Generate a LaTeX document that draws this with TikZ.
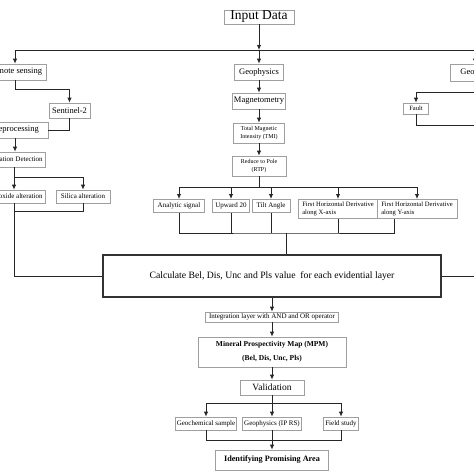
\documentclass[tikz,border=0pt]{standalone}
\usepackage{fontspec}
\setmainfont{Liberation Serif}
\usetikzlibrary{arrows.meta}
\begin{document}
\begin{tikzpicture}[
  x=1pt,y=-1pt,
  box/.style={draw=gray!75,fill=white,line width=0.6pt,inner sep=1pt,align=center,font=\fontsize{8.5}{10}\selectfont},
  smallbox/.style={box,minimum height=13pt,font=\fontsize{7}{8}\selectfont},
  tinybox/.style={box,minimum height=20pt,font=\fontsize{6}{8.5}\selectfont},
  derivbox/.style={box,align=left,minimum width=80pt,minimum height=19pt,font=\fontsize{6.6}{8}\selectfont},
  connection/.style={-{Latex[length=5pt,width=4.5pt]},line width=0.9pt,draw=black!85},
  link/.style={line width=0.9pt,draw=black!85}
]
  \useasboundingbox (0,0) rectangle (474,474);
  \clip (0,0) rectangle (474,474);

  \node[box,font=\fontsize{13.5}{15}\selectfont,minimum width=70pt,minimum height=14pt] (input) at (259,17) {Input Data};
  \coordinate (trunk) at (0,50);
  \node[box,minimum width=62pt,minimum height=16pt] (remote) at (15,72) {Remote sensing};
  \node[box,minimum width=49pt,minimum height=16pt] (geophys) at (259,72) {Geophysics};
  \node[box,minimum width=50pt,minimum height=17pt] (geology) at (475,72.5) {Geology};

  \node[box,minimum width=41pt,minimum height=15pt] (sentinel) at (69.5,110.5) {Sentinel-2};
  \node[box,minimum width=66pt,minimum height=16pt] (preproc) at (15,130) {Preprocessing};
  \node[box,font=\fontsize{7}{8}\selectfont,minimum width=62pt,minimum height=15pt] (altdetect) at (14,159.5) {Alteration Detection};
  \node[smallbox,minimum width=62pt] (ironoxide) at (14,196.5) {Iron oxide alteration};
  \node[smallbox,minimum width=54pt] (silica) at (83,196.5) {Silica alteration};

  \node[box,font=\fontsize{6.5}{8}\selectfont,minimum width=25pt,minimum height=11pt] (fault) at (416,108.5) {Fault};

  \node[box,minimum width=53pt,minimum height=16pt] (magneto) at (259,101) {Magnetometry};
  \node[tinybox,minimum width=51pt] (tmi) at (259,133) {Total Magnetic\\Intensity (TMI)};
  \node[tinybox,minimum width=54pt] (rtp) at (259,166) {Reduce to Pole\\(RTP)};

  \node[smallbox,anchor=north,minimum width=51pt] (analytic) at (179,199) {Analytic signal};
  \node[smallbox,anchor=north,minimum width=37pt] (upward) at (231,199) {Upward 20};
  \node[smallbox,anchor=north,minimum width=38pt] (tilt) at (271,199) {Tilt Angle};
  \node[derivbox,anchor=north] (derivx) at (338,199) {First Horizontal Derivative\\along X-axis};
  \node[derivbox,anchor=north] (derivy) at (417,199) {First Horizontal Derivative\\along Y-axis};
  \coordinate (derivjoin) at (286,233);

  \node[box,draw=black!80,line width=1.1pt,font=\fontsize{9.7}{11}\selectfont,minimum width=338pt,minimum height=42pt] (calc) at (272,276)
    {Calculate Bel, Dis, Unc and Pls value~ for each evidential layer};
  \node[box,font=\fontsize{7}{8}\selectfont,minimum width=133pt,minimum height=10pt] (integ) at (272,317) {Integration layer with AND and OR operator};
  \node[box,font=\fontsize{7.5}{14}\selectfont\bfseries,minimum width=148pt,minimum height=30pt] (mpm) at (272,352)
    {Mineral Prospectivity Map (MPM)\\(Bel, Dis, Unc, Pls)};
  \node[box,font=\fontsize{9.5}{11}\selectfont,minimum width=64pt,minimum height=15pt] (valid) at (272,387.5) {Validation};

  \node[smallbox,minimum width=60pt] (geochem) at (206,423.5) {Geochemical sample};
  \node[smallbox,minimum width=59pt] (geoip) at (272,423.5) {Geophysics (IP RS)};
  \node[smallbox,minimum width=35pt] (fieldstudy) at (341,423.5) {Field study};
  \node[box,font=\fontsize{8.2}{10}\selectfont\bfseries,minimum width=113pt,minimum height=20pt] (ident) at (272,460) {Identifying Promising Area};

  \draw[connection] (input) -- (input |- trunk);
  \draw[connection] (input |- trunk) -| (remote);
  \draw[connection] (input |- trunk) -| (geology);
  \draw[connection] (input |- trunk) -- (geophys);

  \draw[connection] (remote.south) -- ++(0,9) -| (sentinel);
  \draw[link] (sentinel) |- (preproc);
  \draw[connection] (preproc) -- (preproc |- altdetect.north);
  \draw[connection] (altdetect.south) -- ++(0,10.5) -| (silica);
  \draw[connection] (altdetect) -- (ironoxide);
  \draw[link] (silica.south) -- ++(0,8) -| (ironoxide.south);
  \draw[link] (ironoxide) |- (calc);

  \draw[connection] (geology.south) -- ++(0,11) -| (fault);
  \draw[link] (fault.south) -- ++(0,11) -- ++(80,0) |- (calc);

  \draw[connection] (geophys) -- (magneto);
  \draw[connection] (magneto) -- (tmi);
  \draw[connection] (tmi) -- (rtp);
  \draw[connection] (rtp.south) -- ++(0,11) -| (analytic);
  \draw[connection] (rtp.south) -- ++(0,11) -| (upward);
  \draw[connection] (rtp.south) -- ++(0,11) -| (tilt);
  \draw[connection] (rtp.south) -- ++(0,11) -| (derivx);
  \draw[connection] (rtp.south) -- ++(0,11) -| (derivy);

  \draw[link] (analytic) |- (derivjoin) -| ([xshift=-23pt]derivy.south);
  \draw[link] (upward) -- (upward |- derivjoin);
  \draw[link] (tilt) -- (tilt |- derivjoin);
  \draw[link] (derivx) -- (derivx |- derivjoin);
  \draw[link] (derivjoin) -- (derivjoin |- calc.north);

  \draw[connection] (calc) -- (integ);
  \draw[connection] (integ) -- (mpm);
  \draw[connection] (mpm) -- (valid);
  \draw[connection] (valid.south) -- ++(0,8) -| (geochem);
  \draw[connection] (valid.south) -- ++(0,8) -| (fieldstudy);
  \draw[connection] (valid) -- (geoip);
  \draw[link] (geochem.south) -- ++(0,10) -| (fieldstudy.south);
  \draw[connection] (geoip) -- (ident);
\end{tikzpicture}
\end{document}
